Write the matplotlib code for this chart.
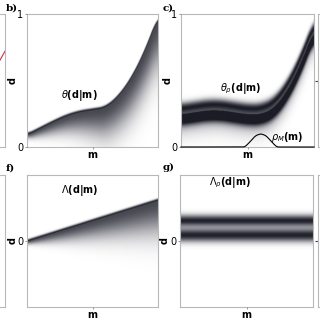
import numpy as np
import matplotlib
matplotlib.use("Agg")
import matplotlib.pyplot as plt
from matplotlib.colors import LinearSegmentedColormap

# ridge of theta(d|m), panel b
m_b = [0.0, 0.1, 0.2, 0.3, 0.4, 0.5, 0.6, 0.7, 0.8, 0.9, 1.0]
ridge_b = [0.09, 0.14, 0.19, 0.235, 0.265, 0.28, 0.295, 0.38, 0.52, 0.72, 0.98]

# centre of theta_rho(d|m), panel c
m_c = [0.0, 0.1, 0.2, 0.3, 0.4, 0.5, 0.6, 0.7, 0.8, 0.9, 1.0]
centre_c = [0.245, 0.26, 0.275, 0.275, 0.26, 0.245, 0.245, 0.29, 0.42, 0.62, 0.88]

# prior rho_M(m) bump
m_rho = [0.0, 0.48, 0.52, 0.56, 0.6, 0.64, 0.68, 0.72, 1.0]
rho = [0.0, 0.0, 0.04, 0.085, 0.1, 0.085, 0.04, 0.0, 0.0]

# Lambda(d|m) ridge slope, panel f; Lambda_rho band edges, panel g
slope_f = 0.62
band_g = [0.09, 0.31]

cmap = LinearSegmentedColormap.from_list("ink", ["#ffffff", "#8a8a92", "#1c1c26"])
spine_col = "#b8b8b8"

fig = plt.figure(figsize=(3.2, 3.2), dpi=100)
W, H = 320.0, 320.0


def ax_at(x0, y0, x1, y1):
    return fig.add_axes([x0 / W, 1 - y1 / H, (x1 - x0) / W, (y1 - y0) / H])


def smooth(y, k=31):
    pad = np.pad(y, k // 2, mode="edge")
    return np.convolve(pad, np.ones(k) / k, mode="valid")


def style(ax, ylim, yticks, yticklabels, ylab_x):
    ax.set_xlim(0, 1)
    ax.set_ylim(*ylim)
    ax.set_xticks([0.5])
    ax.set_xticklabels([])
    ax.set_yticks(yticks)
    ax.set_yticklabels(yticklabels, fontsize=7)
    ax.tick_params(length=1.5, width=0.6, pad=1, color="#888888")
    for s in ax.spines.values():
        s.set_color(spine_col)
        s.set_linewidth(0.8)
        s.set_zorder(1)
    ax.set_xlabel("m", fontsize=7, fontweight="bold", labelpad=0)
    ax.set_ylabel("d", fontsize=7, fontweight="bold")
    ax.yaxis.set_label_coords(ylab_x, 0.5)


mm = np.linspace(0, 1, 300)

# ---- panel b
ax = ax_at(27, 14, 158, 147)
dd = np.linspace(0, 1, 300)
M, D = np.meshgrid(mm, dd)
r = smooth(np.interp(mm, m_b, ridge_b))[None, :]
delta = r - D
line = np.exp(-(delta / 0.012) ** 2)
s = 0.03 + 0.3 * M
tail = np.where(delta > 0, 0.8 * np.exp(-(delta / s) ** 2), 0)
z = np.clip(np.maximum(line * 0.97, tail), 0, 1)
ax.imshow(z, extent=[0, 1, 0, 1], origin="lower", aspect="auto", cmap=cmap, vmin=0, vmax=1)
style(ax, (0, 1), [0, 1], ["0", "1"], -0.07)
ax.text(0.4, 0.39, r"$\theta$(d|m)", fontsize=7, fontweight="bold", ha="center", va="center")
fig.text(6 / W, 1 - 8 / H, "b)", fontsize=7.5, fontweight="bold", family="serif", va="center")

# ---- panel c
ax = ax_at(181, 14, 314, 147)
c = smooth(np.interp(mm, m_c, centre_c))[None, :]
dc = D - c
z = 0.95 * np.exp(-((dc - 0.045) / 0.042) ** 2) + 0.95 * np.exp(-((dc + 0.04) / 0.048) ** 2)
z = z + np.where(dc < 0, 0.45 * np.exp(-(dc / 0.14) ** 2), 0)
z = np.clip(z, 0, 1)
ax.imshow(z, extent=[0, 1, 0, 1], origin="lower", aspect="auto", cmap=cmap, vmin=0, vmax=1)
ax.plot(mm, smooth(np.interp(mm, m_rho, rho), 9), color="black", lw=0.8, clip_on=False, zorder=3)
style(ax, (0, 1), [0, 1], ["0", "1"], -0.065)
ax.text(0.45, 0.44, r"$\theta_\rho$(d|m)", fontsize=7, fontweight="bold", ha="center", va="center")
ax.text(0.68, 0.075, r"$\rho_M$(m)", fontsize=7, fontweight="bold", ha="left", va="center")
fig.text(163 / W, 1 - 8 / H, "c)", fontsize=7.5, fontweight="bold", family="serif", va="center")

# ---- panel f
ax = ax_at(27, 175, 158, 307)
dd = np.linspace(-1, 1, 300)
M, D = np.meshgrid(mm, dd)
r = slope_f * M
delta = r - D
line = np.exp(-(delta / 0.025) ** 2)
s = 0.05 + 0.42 * M
tail = np.where(delta > 0, 0.8 * np.exp(-(delta / s) ** 2), 0)
z = np.clip(np.maximum(line * 0.97, tail), 0, 1)
ax.imshow(z, extent=[0, 1, -1, 1], origin="lower", aspect="auto", cmap=cmap, vmin=0, vmax=1)
style(ax, (-1, 1), [0], ["0"], -0.075)
ax.text(0.4, 0.77, r"$\Lambda$(d|m)", fontsize=7, fontweight="bold", ha="center", va="center")
fig.text(6 / W, 1 - 168 / H, "f)", fontsize=7.5, fontweight="bold", family="serif", va="center")

# ---- panel g
ax = ax_at(180, 175, 313, 307)
z = 0.97 * np.exp(-((D - band_g[1]) / 0.085) ** 2) + 0.97 * np.exp(-((D - band_g[0]) / 0.1) ** 2)
z = np.clip(z, 0, 1)
ax.imshow(z, extent=[0, 1, -1, 1], origin="lower", aspect="auto", cmap=cmap, vmin=0, vmax=1)
style(ax, (-1, 1), [0], ["0"], -0.075)
ax.text(0.38, 0.88, r"$\Lambda_\rho$(d|m)", fontsize=7, fontweight="bold", ha="center", va="center")
fig.text(163 / W, 1 - 167 / H, "g)", fontsize=7.5, fontweight="bold", family="serif", va="center")

# ---- clipped neighbour panels at the edges
for (y0, y1) in [(14, 147), (175, 307)]:
    ax = ax_at(-120, y0, 5, y1)
    ax.set_xticks([]); ax.set_yticks([])
    for sp in ax.spines.values():
        sp.set_color(spine_col)
    ax = ax_at(318, y0, 440, y1)
    ax.set_xticks([]); ax.set_yticks([0.5])
    ax.set_yticklabels([])
    ax.tick_params(length=2, color="#444444")
    for sp in ax.spines.values():
        sp.set_color(spine_col)

ax = fig.axes[-4]
ax.set_xlim(0, 1); ax.set_ylim(0, 1)
ax.plot([0.94, 1.0], [0.62, 0.72], color="#d03040", lw=0.8)

fig.savefig("out.png", dpi=100)
